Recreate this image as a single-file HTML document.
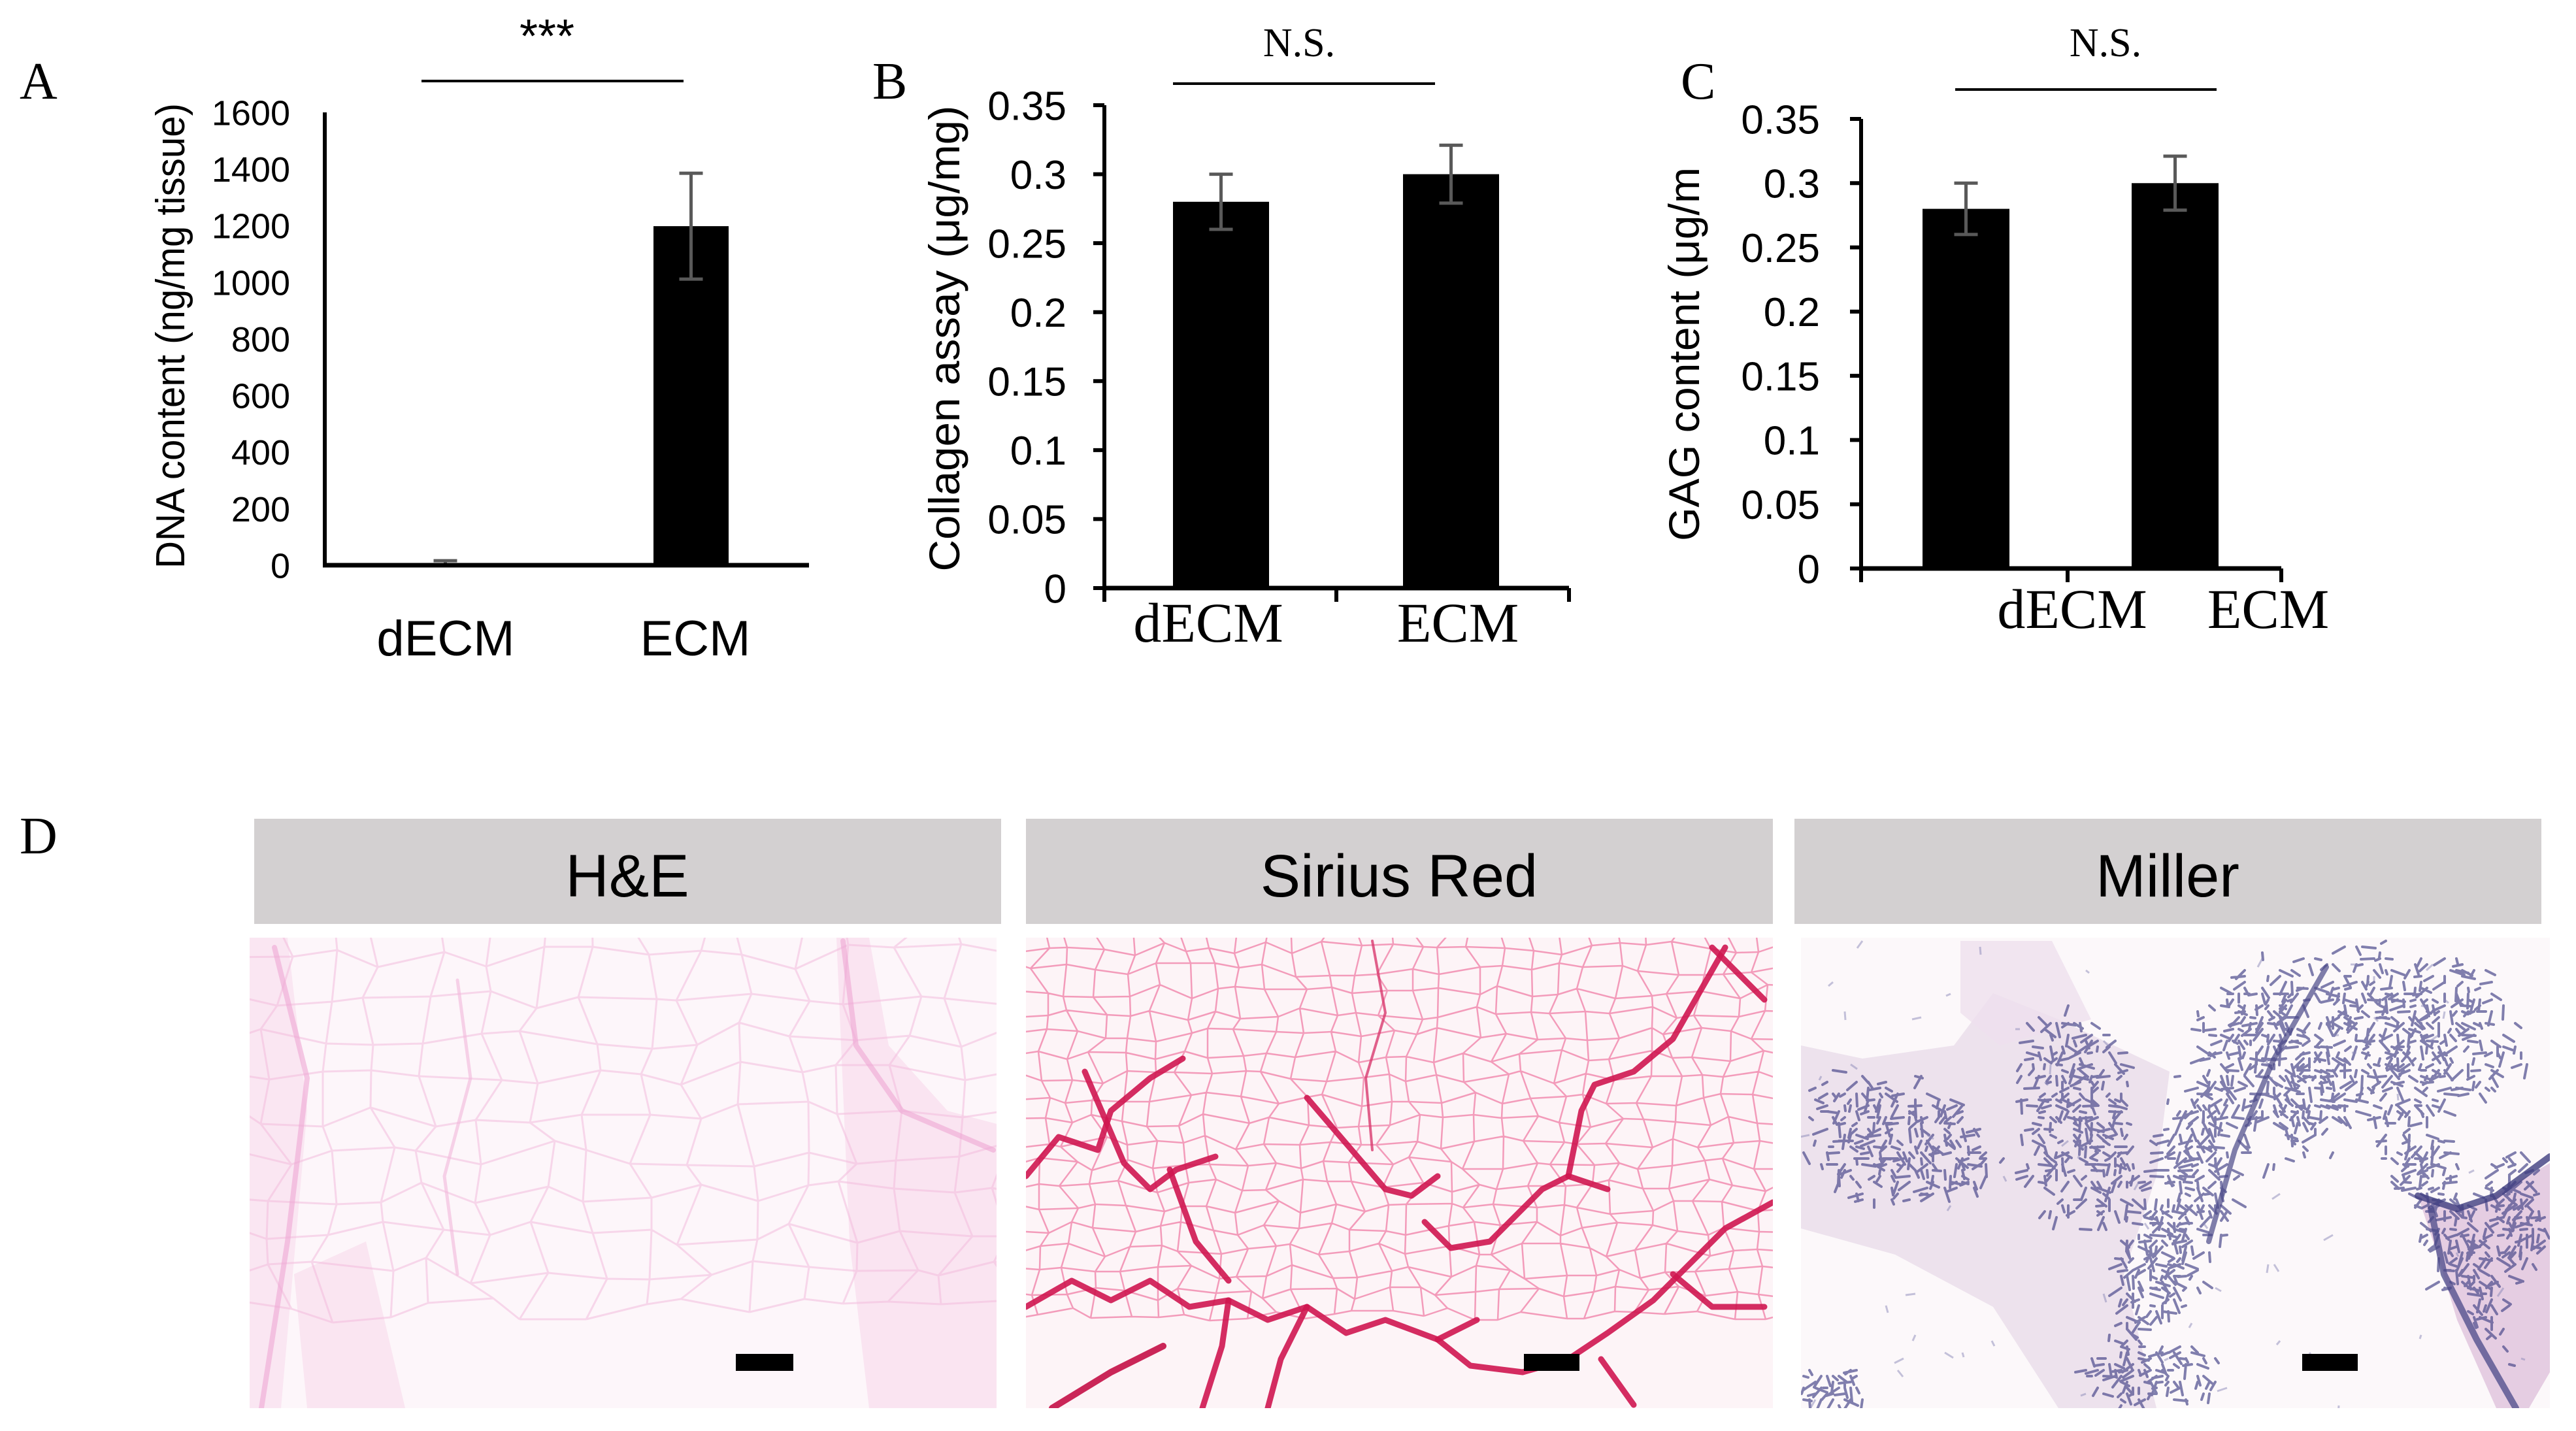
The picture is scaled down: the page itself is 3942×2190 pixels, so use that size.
<!DOCTYPE html>
<html><head><meta charset="utf-8"><title>ECM figure</title>
<style>
html,body{margin:0;padding:0;background:#fff;}
svg{display:block;}
.sans{font-family:"Liberation Sans",sans-serif;}
.serif{font-family:"Liberation Serif",serif;}
</style></head>
<body>
<svg id="fig" width="3942" height="2190" viewBox="0 0 3942 2190" xmlns="http://www.w3.org/2000/svg">
<rect width="3942" height="2190" fill="#fff"/>
<g id="chartA"></g>
<g id="chartB"></g>
<g id="chartC"></g>
<g id="panelD">
  <text x="30" y="1306" class="serif" font-size="80">D</text>
  <rect x="389" y="1253" width="1143" height="161" fill="#d3d0d1"/>
  <rect x="1570" y="1253" width="1143" height="161" fill="#d3d0d1"/>
  <rect x="2746" y="1253" width="1143" height="161" fill="#d3d0d1"/>
  <text x="960" y="1372" text-anchor="middle" class="sans" font-size="92">H&amp;E</text>
  <text x="2141" y="1372" text-anchor="middle" class="sans" font-size="92">Sirius Red</text>
  <text x="3317" y="1372" text-anchor="middle" class="sans" font-size="92">Miller</text>
  <defs>
    <clipPath id="cHE"><rect x="382" y="1435" width="1143" height="720"/></clipPath>
    <clipPath id="cSR"><rect x="1570" y="1435" width="1143" height="720"/></clipPath>
    <clipPath id="cMI"><rect x="2756" y="1435" width="1146" height="720"/></clipPath>
  </defs>
  <g clip-path="url(#cHE)">
    <rect x="382" y="1435" width="1143" height="720" fill="#fdf6fa"/>
    <g id="heNet"></g>
  </g>
  <g clip-path="url(#cSR)">
    <rect x="1570" y="1435" width="1143" height="720" fill="#fdf4f7"/>
    <g id="srNet"></g>
  </g>
  <g clip-path="url(#cMI)">
    <rect x="2756" y="1435" width="1146" height="720" fill="#fcf8fa"/>
    <g id="miNet"></g>
  </g>
  <rect x="1126" y="2072" width="88" height="26" fill="#000"/>
  <rect x="2332" y="2072" width="85" height="26" fill="#000"/>
  <rect x="3523" y="2072" width="85" height="26" fill="#000"/>
</g>
</svg>
<script>
const NS='http://www.w3.org/2000/svg';
// ---- Panel A data ----
const catsA=['dECM','ECM'];
const valsA=[8,1198];
const errA=[8,187];
const ticksA=[0,200,400,600,800,1000,1200,1400,1600];
// ---- Panel B data ----
const catsB=['dECM','ECM'];
const valsB=[0.28,0.30];
const errB=[0.02,0.021];
const ticksB=['0','0.05','0.1','0.15','0.2','0.25','0.3','0.35'];
// ---- Panel C data ----
const catsC=['dECM','ECM'];
const valsC=[0.28,0.30];
const errC=[0.02,0.021];
const ticksC=['0','0.05','0.1','0.15','0.2','0.25','0.3','0.35'];

function el(tag,attrs,parent,txt){const e=document.createElementNS(NS,tag);for(const k in attrs)e.setAttribute(k,attrs[k]);if(txt!==undefined)e.textContent=txt;parent.appendChild(e);return e;}

function drawChart(g,cfg,cats,vals,errs,ticks){
  const y=v=>cfg.y0-(v-cfg.min)/(cfg.max-cfg.min)*(cfg.y0-cfg.y1);
  ticks.forEach(t=>{
    const v=parseFloat(t);
    const tl=el('text',{x:cfg.labX,y:y(v)+cfg.fs*0.36,'text-anchor':'end','font-size':cfg.fs,'class':'sans'},g,String(t));
    
    
    if(cfg.tickMarks){
      const tm=el('line',{x1:cfg.ax-17,x2:cfg.ax,y1:y(v),y2:y(v),stroke:'#000','stroke-width':6},g);
      
      
    }
  });
  cats.forEach((c,i)=>{
    const bx=cfg.barX[i];
    const b=el('rect',{x:bx,y:y(vals[i]),width:cfg.bw,height:cfg.y0-y(vals[i]),fill:'#000'},g);
    
    
    const cx=bx+cfg.bw/2;
    const eg=el('g',{stroke:'#595959','stroke-width':5},g);
    
    
    el('line',{x1:cx,x2:cx,y1:y(vals[i]+errs[i]),y2:y(vals[i]-errs[i])},eg);
    el('line',{x1:cx-18,x2:cx+18,y1:y(vals[i]+errs[i]),y2:y(vals[i]+errs[i])},eg);
    el('line',{x1:cx-18,x2:cx+18,y1:y(vals[i]-errs[i]),y2:y(vals[i]-errs[i])},eg);
    const xl=el('text',{x:cfg.xlabX[i],y:cfg.xlabY,'text-anchor':'middle','font-size':cfg.xfs,'class':cfg.xclass},g,c);
    
    
  });
  const ya=el('line',{x1:cfg.ax,x2:cfg.ax,y1:cfg.y1,y2:cfg.y0+3,stroke:'#000','stroke-width':6},g);
  
  
  const xa=el('line',{x1:cfg.ax-3,x2:cfg.axR,y1:cfg.y0,y2:cfg.y0,stroke:'#000','stroke-width':7},g);
  
  
  (cfg.xTicks||[]).forEach(tx=>{
    const t=el('line',{x1:tx,x2:tx,y1:cfg.y0,y2:cfg.y0+21,stroke:'#000','stroke-width':6},g);
    
    
  });
  const tt=el('text',{x:0,y:0,'text-anchor':'middle','font-size':cfg.tfs,'class':'sans',transform:`translate(${cfg.tX},${cfg.tY}) rotate(-90)`},g,cfg.title);
  if(cfg.tLen){tt.setAttribute('textLength',cfg.tLen);tt.setAttribute('lengthAdjust','spacingAndGlyphs');}
  
  
  const sl=el('line',{x1:cfg.sig[0],x2:cfg.sig[1],y1:cfg.sig[2],y2:cfg.sig[2],stroke:'#000','stroke-width':4},g);
  
  
  const st=el('text',{x:cfg.sigT[0],y:cfg.sigT[1],'text-anchor':'middle','font-size':cfg.sigT[2],'class':cfg.sigT[3]},g,cfg.sigT[4]);
  
  
  const pl=el('text',{x:cfg.pl[0],y:cfg.pl[1],'font-size':80,'class':'serif'},g,cfg.pl[2]);
  
  
}

drawChart(document.getElementById('chartA'),{min:0,max:1600,y0:865,y1:172,ax:497,axR:1238,labX:444,fs:54,tickMarks:false,
  barX:[624,1000],bw:115,xlabX:[682,1064],xlabY:1003,xfs:76,xclass:'sans',
  tX:282,tY:514,tfs:62,tLen:712,title:'DNA content (ng/mg tissue)',
  sig:[645,1046,124],sigT:[837,80,72,'sans','***'],pl:[30,151,'A']},catsA,valsA,errA,ticksA);

drawChart(document.getElementById('chartB'),{min:0,max:0.35,y0:900,y1:161,ax:1690,axR:2401,labX:1632,fs:62,tickMarks:true,
  barX:[1795,2147],bw:147,xlabX:[1849,2231],xlabY:982,xfs:86,xclass:'serif',xTicks:[1690,2045,2401],
  tX:1468,tY:518,tfs:66,tLen:713,title:'Collagen assay (\u03bcg/mg)',
  sig:[1795,2196,128],sigT:[1988,86,62,'serif','N.S.'],pl:[1335,151,'B']},catsB,valsB,errB,ticksB);

drawChart(document.getElementById('chartC'),{min:0,max:0.35,y0:870,y1:182,ax:2848,axR:3491,labX:2785,fs:62,tickMarks:true,
  barX:[2942,3262],bw:133,xlabX:[3171,3471],xlabY:961,xfs:86,xclass:'serif',xTicks:[2848,3164,3491],
  tX:2600,tY:542,tfs:66,tLen:572,title:'GAG content (\u03bcg/m',
  sig:[2992,3392,137],sigT:[3222,86,62,'serif','N.S.'],pl:[2572,151,'C']},catsC,valsC,errC,ticksC);

// ---- decorative histology textures (deterministic LCG) ----
let seed=12345;
function rnd(){seed=(seed*1103515245+12345)%2147483648;return seed/2147483648;}
function network(g,x0,y0,w,h,s,color,sw,op){
  const nx=Math.ceil(w/s)+2,ny=Math.ceil(h/s)+2,P=[];
  for(let j=0;j<ny;j++){P[j]=[];for(let i=0;i<nx;i++){P[j][i]=[x0+(i-0.5)*s+(rnd()-0.5)*s*0.7,y0+(j-0.5)*s*0.75+(rnd()-0.5)*s*0.5];}}
  let d='';
  for(let j=0;j<ny;j++)for(let i=0;i<nx;i++){
    const p=P[j][i];
    if(i+1<nx){const q=P[j][i+1];d+=`M${p[0].toFixed(0)} ${p[1].toFixed(0)}L${q[0].toFixed(0)} ${q[1].toFixed(0)}`;}
    if(j+1<ny){const q=P[j+1][i];d+=`M${p[0].toFixed(0)} ${p[1].toFixed(0)}L${q[0].toFixed(0)} ${q[1].toFixed(0)}`;}
  }
  el('path',{d:d,stroke:color,'stroke-width':sw,fill:'none',opacity:op,'stroke-linejoin':'round'},g);
}
function poly(g,pts,color,sw,op){el('polyline',{points:pts,stroke:color,'stroke-width':sw,fill:'none',opacity:op,'stroke-linejoin':'round','stroke-linecap':'round'},g);}

// H&E
const he=document.getElementById('heNet');
el('path',{d:'M382 1435 L440 1435 L470 1700 L430 2155 L382 2155Z',fill:'#f9dcec',opacity:0.6},he);
el('path',{d:'M1280 1435 L1330 1435 L1360 1600 L1450 1700 L1525 1720 L1525 2155 L1330 2155 L1300 1900Z',fill:'#f8d6ea',opacity:0.55},he);
el('path',{d:'M450 1950 L560 1900 L620 2155 L470 2155Z',fill:'#f8d3e8',opacity:0.5},he);
network(he,382,1435,1143,720,80,'#f2bcdd',3,0.55);
poly(he,'420,1450 470,1650 440,1900 400,2155','#efa6d3',8,0.6);
poly(he,'1290,1440 1310,1600 1380,1700 1520,1760','#efa6d3',8,0.6);
poly(he,'700,1500 720,1650 680,1800 700,1950','#f1b7da',5,0.6);

// Sirius Red
const sr=document.getElementById('srNet');
network(sr,1570,1435,1143,720,44,'#ef7ea5',2.5,0.75);
const srMain=[
 '1570,1800 1620,1740 1680,1760 1700,1700 1760,1650 1810,1620',
 '1660,1640 1720,1780 1760,1820 1800,1790 1860,1770',
 '1570,2000 1640,1960 1700,1990 1760,1960 1820,2000 1880,1990 1940,2020 2000,2000 2060,2040 2120,2020 2200,2050 2260,2020',
 '1790,1790 1830,1900 1880,1960',
 '2000,1680 2060,1750 2120,1820 2160,1830 2200,1800',
 '2180,1870 2220,1910 2280,1900 2320,1860 2360,1820 2400,1800 2460,1820',
 '2400,1800 2420,1700 2440,1660 2500,1640 2560,1590 2600,1520 2640,1450',
 '2620,1450 2700,1530',
 '2200,2050 2250,2090 2330,2100 2400,2080 2460,2040 2530,1990 2580,1940 2640,1880 2713,1840',
 '1880,1990 1870,2060 1840,2155',
 '2000,2000 1960,2080 1940,2155',
 '2450,2080 2500,2150',
 '2560,1950 2620,2000 2700,2000'
];
srMain.forEach(p=>poly(sr,p,'#cf1650',9,0.9));
poly(sr,'2100,1440 2120,1550 2090,1650 2100,1760','#d83a6e',4,0.8);
poly(sr,'1610,2155 1700,2100 1780,2060','#c41046',10,0.9);

// Miller
const mi=document.getElementById('miNet');
el('path',{d:'M2756 1600 L2850 1620 L2990 1600 L3050 1520 L3150 1560 L3320 1640 L3300 1800 L3250 1950 L3300 2155 L3150 2155 L3050 2000 L2900 1920 L2756 1880Z',fill:'#e8dcea',opacity:0.8},mi);
el('path',{d:'M3000 1440 L3140 1440 L3200 1560 L3060 1600 L3000 1550Z',fill:'#ede0ee',opacity:0.8},mi);
el('path',{d:'M3700 1830 L3780 1850 L3902 1780 L3902 2100 L3870 2155 L3820 2155 L3760 2020 L3730 1920Z',fill:'#e2c8df',opacity:0.9},mi);
const blobs=[[2900,1740,170,110,15],[3180,1720,110,200,-10],[3330,1850,90,300,20],[3500,1620,160,170,0],[3680,1580,200,150,0],[3740,1850,60,280,-25],[3850,1850,60,120,0],[3300,2100,120,60,0],[2800,2130,60,50,0]];
function inBlob(x,y){let m=0;blobs.forEach(b=>{const a=b[4]*Math.PI/180,dx=x-b[0],dy=y-b[1];const u=dx*Math.cos(a)+dy*Math.sin(a),v=-dx*Math.sin(a)+dy*Math.cos(a);const r=(u*u)/(b[2]*b[2])+(v*v)/(b[3]*b[3]);if(1-r>m)m=1-r;});return m;}
let md='',ml='';
for(let y=1440;y<2155;y+=9){for(let x=2760;x<3902;x+=9){
  const dens=inBlob(x,y);const r=rnd();
  if(r<dens*0.6){const len=6+rnd()*16,ang=rnd()*Math.PI;md+=`M${x} ${y}l${(len*Math.cos(ang)).toFixed(0)} ${(len*Math.sin(ang)).toFixed(0)}`;}
  else if(r>0.993){const len=6+rnd()*10,ang=rnd()*Math.PI;ml+=`M${x} ${y}l${(len*Math.cos(ang)).toFixed(0)} ${(len*Math.sin(ang)).toFixed(0)}`;}
}}
el('path',{d:md,stroke:'#4c4a8c','stroke-width':4,fill:'none',opacity:0.7,'stroke-linecap':'round'},mi);
el('path',{d:ml,stroke:'#8a87b8','stroke-width':3,fill:'none',opacity:0.5},mi);
poly(mi,'3700,1830 3760,1850 3820,1830 3902,1770','#3f3d80',10,0.8);
poly(mi,'3720,1850 3740,1950 3790,2050 3850,2155','#4a4888',10,0.75);
poly(mi,'3380,1900 3420,1760 3480,1620 3560,1480','#4a4888',8,0.7);
</script>
</body></html>
